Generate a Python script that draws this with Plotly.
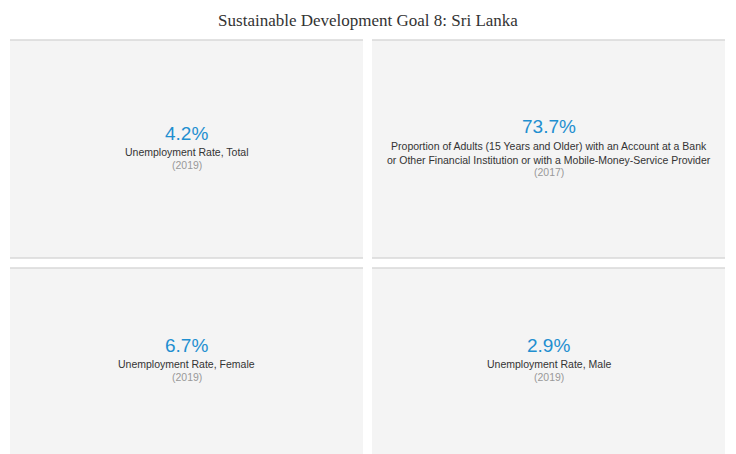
import plotly.graph_objects as go

W, H = 736, 454
OFF = 8  # page body margin

values = ["4.2%", "73.7%", "6.7%", "2.9%"]
labels = [
    "Unemployment Rate, Total",
    "Proportion of Adults (15 Years and Older) with an Account at a Bank<br>or Other Financial Institution or with a Mobile-Money-Service Provider",
    "Unemployment Rate, Female",
    "Unemployment Rate, Male",
]
years = ["(2019)", "(2017)", "(2019)", "(2019)"]

# panel boxes in pixels: x0, x1, y0, y1
panels = [(10, 363, 40, 258), (372, 725, 40, 258), (10, 363, 268, 470), (372, 725, 268, 470)]


def px(x):
    return (x - OFF) / W


def py(y):
    return 1 - (y - OFF) / H


fig = go.Figure()
shapes = []
annotations = []
for i, (x0, x1, y0, y1) in enumerate(panels):
    shapes.append(dict(type="rect", xref="paper", yref="paper", x0=px(x0), x1=px(x1),
                       y0=py(y1), y1=py(y0), fillcolor="#f4f4f4", line_width=0, layer="below"))
    for yy in (y0, y1):
        shapes.append(dict(type="line", xref="paper", yref="paper", x0=px(x0), x1=px(x1),
                           y0=py(yy), y1=py(yy), line=dict(color="#d8d8d8", width=1.5)))
    cx = (x0 + x1) / 2
    nlines = labels[i].count("<br>") + 1
    cy = 149 if i < 2 else 361
    top = cy - 16 - 6.5 * (nlines - 1)
    common = dict(showarrow=False, xref="paper", yref="paper", xanchor="center", align="center")
    annotations.append(dict(x=px(cx), y=py(top), text=values[i], yanchor="middle",
                            font=dict(size=19, color="#1f8fd0", family="Liberation Sans"), **common))
    annotations.append(dict(x=px(cx), y=py(top + 11), text=labels[i], yanchor="top",
                            font=dict(size=10.5, color="#333333", family="Liberation Sans"), **common))
    annotations.append(dict(x=px(cx), y=py(top + 11 + 13 * nlines), text=years[i], yanchor="top",
                            font=dict(size=10.5, color="#999999", family="Liberation Sans"), **common))

fig.update_layout(
    width=W, height=H,
    margin=dict(l=0, r=0, t=0, b=0),
    paper_bgcolor="white", plot_bgcolor="white",
    xaxis=dict(visible=False), yaxis=dict(visible=False),
    shapes=shapes, annotations=annotations,
    title=dict(text="Sustainable Development Goal 8: Sri Lanka", x=px(368), xanchor="center",
               y=py(20), yanchor="middle",
               font=dict(family="Liberation Serif", size=17, color="#333333")),
)
fig.write_html("out.html")
